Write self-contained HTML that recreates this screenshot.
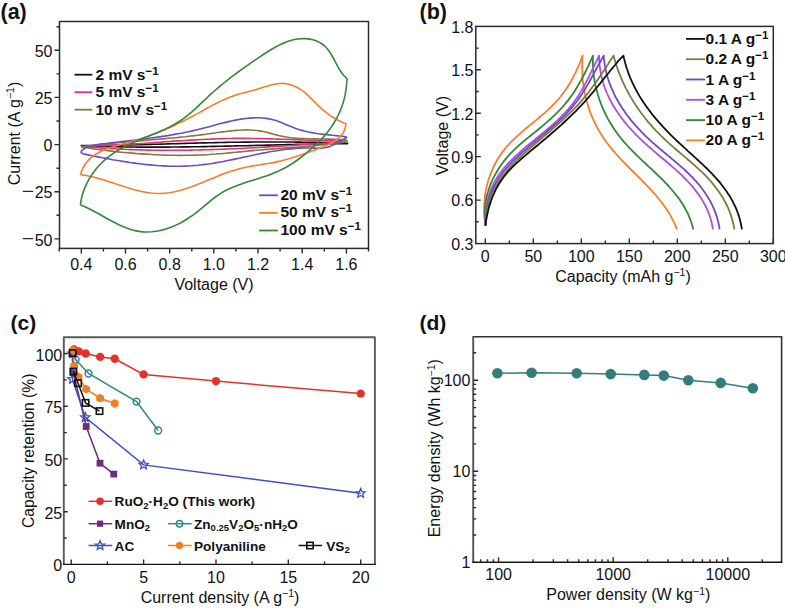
<!DOCTYPE html><html><head><meta charset="utf-8"><style>html,body{margin:0;padding:0;background:#fff;}svg{display:block;}text{font-family:"Liberation Sans", sans-serif;}</style></head><body>
<svg width="785" height="608" viewBox="0 0 785 608">
<rect width="785" height="608" fill="#fff"/>
<text x="0.5" y="19.0" font-size="21.5" text-anchor="start" font-weight="bold" fill="#111" >(a)</text>
<rect x="59.5" y="21.5" width="309.0" height="226.9" fill="none" stroke="#2b2b2b" stroke-width="1.5"/>
<text x="81.3" y="270.4" font-size="16.0" text-anchor="middle" font-weight="normal" fill="#111" >0.4</text>
<text x="125.5" y="270.4" font-size="16.0" text-anchor="middle" font-weight="normal" fill="#111" >0.6</text>
<text x="169.7" y="270.4" font-size="16.0" text-anchor="middle" font-weight="normal" fill="#111" >0.8</text>
<text x="213.8" y="270.4" font-size="16.0" text-anchor="middle" font-weight="normal" fill="#111" >1.0</text>
<text x="258.0" y="270.4" font-size="16.0" text-anchor="middle" font-weight="normal" fill="#111" >1.2</text>
<text x="302.2" y="270.4" font-size="16.0" text-anchor="middle" font-weight="normal" fill="#111" >1.4</text>
<text x="346.4" y="270.4" font-size="16.0" text-anchor="middle" font-weight="normal" fill="#111" >1.6</text>
<text x="52.5" y="245.6" font-size="16.0" text-anchor="end" font-weight="normal" fill="#111" >50</text>
<text x="52.5" y="198.4" font-size="16.0" text-anchor="end" font-weight="normal" fill="#111" >25</text>
<text x="52.5" y="151.3" font-size="16.0" text-anchor="end" font-weight="normal" fill="#111" >0</text>
<text x="52.5" y="104.1" font-size="16.0" text-anchor="end" font-weight="normal" fill="#111" >25</text>
<text x="52.5" y="57.0" font-size="16.0" text-anchor="end" font-weight="normal" fill="#111" >50</text>
<path d="M59.2,248.4V251.4 M81.3,248.4V253.4 M103.4,248.4V251.4 M125.5,248.4V253.4 M147.6,248.4V251.4 M169.7,248.4V253.4 M191.8,248.4V251.4 M213.8,248.4V253.4 M235.9,248.4V251.4 M258.0,248.4V253.4 M280.1,248.4V251.4 M302.2,248.4V253.4 M324.3,248.4V251.4 M346.4,248.4V253.4 M368.5,248.4V251.4 M59.5,238.9H54.5 M22.9,238.6H33.1 M59.5,215.3H56.5 M59.5,191.8H54.5 M22.9,191.4H33.1 M59.5,168.2H56.5 M59.5,144.6H54.5 M59.5,121.0H56.5 M59.5,97.4H54.5 M59.5,73.9H56.5 M59.5,50.3H54.5 M59.5,26.7H56.5" stroke="#2b2b2b" stroke-width="1.4" fill="none"/>
<text x="214.0" y="290.0" font-size="16.0" text-anchor="middle" font-weight="normal" fill="#111" >Voltage (V)</text>
<text transform="translate(19.5,133.5) rotate(-90)" font-size="16" text-anchor="middle" fill="#111">Current (A g<tspan dy="-5.5" font-size="10.5">−1</tspan><tspan dy="5.5">)</tspan></text>
<path d="M80.6,145.6 L84.0,145.6 L87.4,145.6 L90.7,145.5 L94.1,145.5 L97.5,145.5 L100.9,145.4 L104.3,145.4 L107.6,145.3 L111.0,145.3 L114.4,145.2 L117.8,145.2 L121.2,145.1 L124.5,145.0 L127.9,145.0 L131.3,144.9 L134.7,144.8 L138.0,144.7 L141.4,144.6 L144.8,144.5 L148.2,144.4 L151.6,144.4 L154.9,144.3 L158.3,144.2 L161.7,144.1 L165.1,144.0 L168.5,143.9 L171.8,143.8 L175.2,143.7 L178.6,143.6 L182.0,143.5 L185.4,143.4 L188.7,143.3 L192.1,143.2 L195.5,143.1 L198.9,143.0 L202.3,142.9 L205.6,142.9 L209.0,142.8 L212.4,142.7 L215.8,142.6 L219.2,142.5 L222.5,142.5 L225.9,142.4 L229.3,142.3 L232.7,142.3 L236.1,142.2 L239.4,142.2 L242.8,142.1 L246.2,142.1 L249.6,142.1 L252.9,142.0 L256.3,142.0 L259.7,142.0 L263.1,142.0 L266.5,142.0 L269.8,142.0 L273.2,142.0 L276.6,142.0 L280.0,142.0 L283.4,142.0 L286.7,142.0 L290.1,142.0 L293.5,142.0 L296.9,142.1 L300.3,142.1 L303.7,142.2 L307.0,142.2 L310.4,142.3 L313.8,142.3 L317.2,142.4 L320.6,142.5 L323.9,142.5 L327.3,142.6 L330.7,142.7 L334.1,142.8 L337.5,142.9 L340.8,143.0 L344.2,143.1 L347.6,143.2 L347.6,143.6 L344.2,143.6 L340.8,143.7 L337.5,143.7 L334.1,143.7 L330.7,143.8 L327.3,143.8 L323.9,143.9 L320.6,143.9 L317.2,144.0 L313.8,144.1 L310.4,144.1 L307.1,144.2 L303.7,144.3 L300.3,144.3 L296.9,144.4 L293.5,144.5 L290.2,144.6 L286.8,144.6 L283.4,144.7 L280.0,144.8 L276.6,144.9 L273.2,145.0 L269.9,145.1 L266.5,145.1 L263.1,145.2 L259.7,145.3 L256.3,145.4 L253.0,145.5 L249.6,145.6 L246.2,145.7 L242.8,145.7 L239.4,145.8 L236.1,145.9 L232.7,146.0 L229.3,146.1 L225.9,146.1 L222.5,146.2 L219.2,146.3 L215.8,146.4 L212.4,146.4 L209.0,146.5 L205.6,146.6 L202.3,146.6 L198.9,146.7 L195.5,146.7 L192.1,146.8 L188.7,146.9 L185.4,146.9 L182.0,146.9 L178.6,147.0 L175.2,147.0 L171.8,147.0 L168.4,147.1 L165.1,147.1 L161.7,147.1 L158.3,147.1 L154.9,147.1 L151.5,147.1 L148.2,147.1 L144.8,147.1 L141.4,147.1 L138.0,147.1 L134.7,147.0 L131.3,147.0 L127.9,147.0 L124.5,146.9 L121.1,146.9 L117.8,146.8 L114.4,146.7 L111.0,146.7 L107.6,146.6 L104.2,146.5 L100.9,146.4 L97.5,146.3 L94.1,146.2 L90.7,146.0 L87.4,145.9 L84.0,145.8 L80.6,145.6" stroke="#111111" stroke-width="1.60" fill="none" stroke-linejoin="round"/>
<path d="M81.0,146.2 L84.3,146.2 L87.7,146.1 L91.0,146.0 L94.3,145.9 L97.7,145.8 L101.0,145.7 L104.3,145.6 L107.7,145.4 L111.0,145.3 L114.3,145.1 L117.7,144.9 L121.0,144.8 L124.3,144.6 L127.7,144.4 L131.0,144.1 L134.3,143.9 L137.7,143.7 L141.0,143.5 L144.3,143.3 L147.7,143.0 L151.0,142.8 L154.3,142.6 L157.7,142.3 L161.0,142.1 L164.3,141.8 L167.6,141.6 L171.0,141.4 L174.3,141.1 L177.6,140.9 L181.0,140.7 L184.3,140.5 L187.6,140.3 L191.0,140.1 L194.3,139.9 L197.6,139.7 L201.0,139.5 L204.3,139.4 L207.6,139.2 L211.0,139.1 L214.3,138.9 L217.6,138.8 L221.0,138.7 L224.3,138.6 L227.6,138.5 L231.0,138.5 L234.3,138.4 L237.6,138.4 L241.0,138.4 L244.3,138.4 L247.6,138.4 L251.0,138.5 L254.3,138.5 L257.6,138.6 L261.0,138.6 L264.3,138.7 L267.6,138.8 L271.0,138.9 L274.3,139.0 L277.6,139.1 L281.0,139.2 L284.3,139.3 L287.7,139.4 L291.0,139.5 L294.3,139.7 L297.7,139.8 L301.0,139.9 L304.3,140.0 L307.7,140.2 L311.0,140.3 L314.4,140.4 L317.7,140.5 L321.0,140.6 L324.4,140.7 L327.7,140.8 L331.0,140.9 L334.4,141.0 L337.7,141.1 L341.1,141.1 L344.4,141.2 L344.4,141.9 L341.1,142.1 L337.7,142.3 L334.4,142.6 L331.1,142.8 L327.7,143.0 L324.4,143.2 L321.1,143.5 L317.8,143.7 L314.4,143.9 L311.1,144.1 L307.8,144.4 L304.4,144.6 L301.1,144.8 L297.8,145.0 L294.4,145.2 L291.1,145.5 L287.8,145.7 L284.4,145.9 L281.1,146.1 L277.8,146.3 L274.4,146.5 L271.1,146.7 L267.8,146.9 L264.4,147.1 L261.1,147.3 L257.8,147.5 L254.4,147.7 L251.1,147.9 L247.8,148.0 L244.4,148.2 L241.1,148.4 L237.7,148.5 L234.4,148.7 L231.1,148.8 L227.7,149.0 L224.4,149.1 L221.1,149.2 L217.7,149.4 L214.4,149.5 L211.1,149.6 L207.7,149.7 L204.4,149.8 L201.1,149.9 L197.7,150.0 L194.4,150.0 L191.1,150.1 L187.7,150.2 L184.4,150.2 L181.0,150.2 L177.7,150.3 L174.4,150.3 L171.0,150.3 L167.7,150.3 L164.4,150.3 L161.0,150.3 L157.7,150.3 L154.4,150.2 L151.0,150.2 L147.7,150.1 L144.4,150.0 L141.0,149.9 L137.7,149.8 L134.4,149.7 L131.0,149.6 L127.7,149.5 L124.3,149.3 L121.0,149.2 L117.7,149.0 L114.3,148.8 L111.0,148.6 L107.7,148.4 L104.3,148.2 L101.0,147.9 L97.7,147.7 L94.3,147.4 L91.0,147.1 L87.7,146.8 L84.3,146.5 L81.0,146.2" stroke="#e4307a" stroke-width="1.60" fill="none" stroke-linejoin="round"/>
<path d="M81.3,147.0 L84.6,146.5 L88.0,146.1 L91.3,145.6 L94.7,145.2 L98.1,144.8 L101.4,144.4 L104.8,144.0 L108.1,143.7 L111.5,143.3 L114.9,143.0 L118.2,142.7 L121.6,142.4 L125.0,142.1 L128.4,141.8 L131.7,141.5 L135.1,141.2 L138.5,140.9 L141.9,140.6 L145.2,140.4 L148.6,140.1 L152.0,139.8 L155.4,139.5 L158.7,139.2 L162.1,138.9 L165.5,138.6 L168.8,138.3 L172.2,138.0 L175.6,137.7 L178.9,137.4 L182.3,137.0 L185.7,136.7 L189.0,136.3 L192.4,135.9 L195.8,135.5 L199.1,135.1 L202.5,134.6 L205.8,134.2 L209.2,133.7 L212.5,133.2 L215.9,132.8 L219.3,132.3 L222.6,131.9 L226.0,131.5 L229.4,131.1 L232.8,130.7 L236.2,130.4 L239.6,130.2 L243.1,130.0 L246.5,129.9 L249.9,130.0 L253.2,130.2 L256.6,130.5 L259.9,130.9 L263.2,131.5 L266.5,132.3 L269.7,133.1 L273.0,134.0 L276.2,134.9 L279.5,135.7 L282.8,136.4 L286.1,137.0 L289.4,137.5 L292.7,137.9 L296.1,138.2 L299.5,138.5 L302.9,138.6 L306.2,138.8 L309.7,138.8 L313.1,138.9 L316.5,138.9 L319.9,139.0 L323.3,139.0 L326.7,139.1 L330.1,139.1 L333.5,139.2 L336.9,139.4 L340.2,139.6 L343.6,139.9 L346.9,140.3 L346.9,141.6 L343.6,142.1 L340.2,142.6 L336.9,143.1 L333.5,143.6 L330.2,144.0 L326.8,144.4 L323.5,144.8 L320.1,145.1 L316.8,145.4 L313.4,145.8 L310.0,146.1 L306.7,146.4 L303.3,146.6 L299.9,146.9 L296.6,147.2 L293.2,147.4 L289.8,147.7 L286.5,147.9 L283.1,148.2 L279.7,148.4 L276.4,148.7 L273.0,148.9 L269.6,149.2 L266.3,149.4 L262.9,149.7 L259.5,150.0 L256.2,150.3 L252.8,150.6 L249.4,150.9 L246.1,151.2 L242.7,151.6 L239.3,151.9 L236.0,152.2 L232.6,152.5 L229.3,152.9 L225.9,153.2 L222.5,153.5 L219.2,153.7 L215.8,154.0 L212.5,154.2 L209.1,154.5 L205.7,154.7 L202.4,154.9 L199.0,155.0 L195.6,155.1 L192.3,155.2 L188.9,155.3 L185.5,155.3 L182.2,155.4 L178.8,155.4 L175.4,155.3 L172.0,155.3 L168.7,155.2 L165.3,155.1 L161.9,155.0 L158.6,154.8 L155.2,154.7 L151.8,154.5 L148.4,154.3 L145.1,154.1 L141.7,153.9 L138.3,153.7 L134.9,153.4 L131.6,153.1 L128.2,152.8 L124.8,152.5 L121.5,152.2 L118.1,151.9 L114.7,151.5 L111.4,151.1 L108.0,150.7 L104.7,150.3 L101.3,149.9 L98.0,149.5 L94.6,149.0 L91.3,148.5 L88.0,148.0 L84.6,147.5 L81.3,147.0" stroke="#7f7b3b" stroke-width="1.60" fill="none" stroke-linejoin="round"/>
<path d="M80.6,151.6 L83.3,149.3 L86.2,147.6 L89.3,146.4 L92.6,145.5 L96.0,144.9 L99.5,144.4 L102.9,143.9 L106.4,143.5 L109.8,143.1 L113.3,142.6 L116.7,142.2 L120.1,141.8 L123.6,141.4 L127.0,141.0 L130.4,140.6 L133.8,140.2 L137.2,139.8 L140.6,139.4 L144.0,138.9 L147.4,138.5 L150.8,138.0 L154.2,137.6 L157.6,137.1 L161.0,136.6 L164.4,136.1 L167.8,135.6 L171.2,135.0 L174.5,134.4 L177.9,133.8 L181.3,133.2 L184.7,132.5 L188.1,131.8 L191.5,131.1 L194.8,130.3 L198.2,129.5 L201.6,128.6 L205.0,127.8 L208.4,126.9 L211.8,126.0 L215.2,125.0 L218.6,124.1 L222.0,123.2 L225.4,122.4 L228.8,121.6 L232.2,120.8 L235.6,120.1 L239.0,119.5 L242.4,118.9 L245.8,118.5 L249.2,118.1 L252.6,117.9 L256.0,117.8 L259.3,117.8 L262.7,118.0 L266.1,118.4 L269.5,118.9 L272.8,119.7 L276.1,120.6 L279.3,121.8 L282.5,123.1 L285.7,124.4 L288.9,125.7 L292.1,127.0 L295.3,128.3 L298.6,129.4 L301.9,130.4 L305.2,131.2 L308.6,132.0 L312.0,132.6 L315.4,133.2 L318.8,133.7 L322.2,134.1 L325.7,134.5 L329.1,134.9 L332.6,135.3 L336.0,135.6 L339.5,136.0 L342.9,136.4 L346.3,136.8 L346.6,137.5 L344.2,138.9 L341.2,140.0 L338.0,142.0 L334.7,144.3 L331.3,145.9 L328.0,147.1 L324.6,147.8 L321.1,148.1 L317.7,148.2 L314.3,148.1 L310.8,148.0 L307.4,148.0 L303.9,148.0 L300.5,148.1 L297.1,148.3 L293.6,148.6 L290.2,148.9 L286.8,149.2 L283.4,149.7 L280.0,150.1 L276.6,150.7 L273.2,151.2 L269.8,151.8 L266.4,152.5 L263.0,153.1 L259.6,153.8 L256.2,154.5 L252.8,155.2 L249.4,156.0 L246.0,156.7 L242.6,157.4 L239.2,158.2 L235.8,158.9 L232.4,159.6 L229.0,160.3 L225.6,161.0 L222.2,161.7 L218.8,162.3 L215.4,162.9 L212.0,163.5 L208.6,164.0 L205.2,164.4 L201.8,164.8 L198.4,165.2 L195.0,165.5 L191.6,165.8 L188.2,166.0 L184.7,166.1 L181.3,166.2 L177.9,166.2 L174.5,166.2 L171.0,166.2 L167.6,166.1 L164.2,165.9 L160.7,165.7 L157.3,165.5 L153.9,165.2 L150.4,164.9 L147.0,164.6 L143.6,164.2 L140.2,163.8 L136.7,163.4 L133.3,162.9 L129.9,162.5 L126.4,161.9 L123.0,161.4 L119.6,160.8 L116.2,160.3 L112.7,159.7 L109.3,159.0 L105.9,158.4 L102.5,157.8 L99.1,157.1 L95.8,156.4 L92.4,155.8 L89.1,155.1 L85.8,154.4 L82.6,153.7 L80.6,151.6" stroke="#6c4bc4" stroke-width="1.60" fill="none" stroke-linejoin="round"/>
<path d="M80.4,174.7 L81.8,170.7 L83.4,167.1 L85.5,163.8 L87.8,160.9 L90.3,158.4 L93.1,156.1 L96.1,154.0 L99.3,152.2 L102.7,150.6 L106.2,149.1 L109.8,147.8 L113.6,146.6 L117.3,145.5 L121.2,144.4 L125.0,143.4 L128.9,142.3 L132.7,141.2 L136.4,140.1 L140.1,138.9 L143.8,137.7 L147.5,136.4 L151.1,135.1 L154.7,133.8 L158.2,132.4 L161.7,130.9 L165.2,129.4 L168.7,127.9 L172.1,126.4 L175.6,124.8 L179.0,123.1 L182.4,121.5 L185.8,119.8 L189.2,118.0 L192.6,116.2 L196.0,114.4 L199.3,112.6 L202.7,110.7 L206.1,108.8 L209.5,107.0 L212.9,105.1 L216.3,103.3 L219.8,101.6 L223.3,99.9 L226.8,98.4 L230.4,97.0 L233.9,95.7 L237.6,94.6 L241.3,93.6 L245.0,92.6 L248.7,91.6 L252.5,90.6 L256.3,89.5 L260.1,88.3 L264.0,87.0 L267.8,85.9 L271.6,84.8 L275.4,84.0 L279.1,83.5 L282.8,83.4 L286.5,83.8 L290.0,84.6 L293.5,85.8 L296.8,87.3 L300.1,89.2 L303.2,91.3 L306.2,93.7 L309.0,96.4 L311.8,99.1 L314.6,101.9 L317.3,104.7 L320.2,107.4 L323.0,109.9 L326.0,112.4 L329.0,114.6 L332.2,116.8 L335.4,118.8 L338.8,120.6 L342.3,122.2 L346.0,123.7 L346.0,123.7 L345.4,127.5 L344.2,130.9 L342.5,133.8 L340.4,136.4 L337.9,138.8 L335.1,140.8 L332.1,142.7 L328.8,144.3 L325.5,145.9 L322.0,147.3 L318.4,148.6 L314.9,149.9 L311.4,151.2 L307.9,152.5 L304.4,153.7 L300.9,154.9 L297.4,156.1 L293.9,157.2 L290.5,158.3 L287.0,159.3 L283.5,160.2 L280.1,161.1 L276.6,161.9 L273.1,162.6 L269.6,163.2 L266.0,163.8 L262.5,164.4 L259.0,165.0 L255.4,165.5 L251.9,166.1 L248.4,166.8 L244.8,167.5 L241.3,168.3 L237.8,169.2 L234.3,170.2 L230.8,171.3 L227.3,172.5 L223.9,173.8 L220.4,175.1 L216.9,176.5 L213.5,177.9 L210.1,179.3 L206.6,180.8 L203.2,182.2 L199.7,183.6 L196.3,184.9 L192.9,186.2 L189.4,187.5 L186.0,188.6 L182.5,189.7 L179.1,190.7 L175.6,191.5 L172.1,192.2 L168.6,192.8 L165.1,193.2 L161.6,193.4 L158.1,193.5 L154.6,193.3 L151.1,193.0 L147.5,192.5 L144.0,191.9 L140.4,191.2 L136.8,190.3 L133.3,189.4 L129.7,188.3 L126.1,187.3 L122.6,186.1 L119.0,185.0 L115.4,183.8 L111.9,182.6 L108.3,181.4 L104.8,180.3 L101.3,179.2 L97.7,178.2 L94.2,177.3 L90.8,176.5 L87.3,175.7 L83.8,175.1 L80.4,174.7" stroke="#f47f2a" stroke-width="1.60" fill="none" stroke-linejoin="round"/>
<path d="M80.4,204.8 L81.1,200.4 L82.0,196.1 L83.3,191.8 L84.9,187.6 L86.7,183.6 L88.8,179.7 L91.1,175.9 L93.6,172.2 L96.3,168.7 L99.3,165.3 L102.4,162.2 L105.7,159.2 L109.1,156.4 L112.6,153.8 L116.3,151.4 L120.1,149.1 L124.0,147.0 L127.9,144.9 L131.9,143.0 L136.0,141.2 L140.1,139.5 L144.2,137.8 L148.3,136.2 L152.4,134.5 L156.5,132.9 L160.6,131.1 L164.6,129.4 L168.6,127.5 L172.5,125.5 L176.3,123.3 L180.0,121.0 L183.7,118.4 L187.2,115.7 L190.7,112.8 L194.1,109.9 L197.4,106.8 L200.7,103.7 L204.0,100.6 L207.3,97.5 L210.5,94.4 L213.8,91.5 L217.1,88.6 L220.4,85.8 L223.8,83.0 L227.2,80.3 L230.6,77.7 L234.0,75.1 L237.5,72.5 L241.0,69.9 L244.6,67.3 L248.2,64.8 L251.9,62.2 L255.7,59.7 L259.5,57.1 L263.3,54.5 L267.2,52.0 L271.2,49.5 L275.2,47.2 L279.3,45.1 L283.4,43.2 L287.5,41.6 L291.6,40.3 L295.8,39.3 L300.1,38.7 L304.3,38.6 L308.6,38.9 L312.8,39.7 L316.8,41.1 L320.6,43.0 L324.1,45.5 L327.1,48.5 L329.8,52.1 L332.2,56.0 L334.4,60.0 L336.5,64.2 L338.7,68.2 L341.1,72.0 L343.8,75.5 L346.9,78.5 L346.9,78.5 L346.7,82.9 L346.3,87.3 L345.7,91.6 L344.9,95.9 L343.9,100.1 L342.7,104.2 L341.2,108.2 L339.6,112.2 L337.8,116.0 L335.8,119.8 L333.6,123.5 L331.3,127.1 L328.8,130.5 L326.1,133.9 L323.3,137.1 L320.3,140.3 L317.2,143.3 L314.0,146.2 L310.8,149.2 L307.5,152.0 L304.2,154.8 L300.8,157.5 L297.4,160.0 L293.9,162.5 L290.3,164.8 L286.6,167.0 L282.8,169.0 L279.0,170.9 L275.0,172.6 L271.0,174.2 L267.0,175.7 L262.8,177.1 L258.7,178.4 L254.5,179.7 L250.4,181.0 L246.2,182.3 L242.1,183.7 L238.0,185.2 L234.0,186.7 L230.1,188.4 L226.2,190.3 L222.5,192.3 L218.9,194.6 L215.4,197.0 L212.0,199.6 L208.7,202.4 L205.4,205.1 L202.1,207.9 L198.7,210.6 L195.4,213.3 L191.9,215.8 L188.4,218.2 L184.7,220.5 L181.0,222.7 L177.0,224.6 L173.0,226.4 L168.8,228.0 L164.6,229.4 L160.3,230.5 L156.0,231.3 L151.6,231.8 L147.3,232.0 L143.1,231.9 L138.9,231.4 L134.8,230.6 L130.7,229.5 L126.7,228.1 L122.8,226.5 L118.8,224.7 L115.0,222.8 L111.1,220.8 L107.3,218.7 L103.4,216.5 L99.6,214.3 L95.8,212.2 L92.0,210.2 L88.2,208.2 L84.3,206.4 L80.4,204.8" stroke="#33873b" stroke-width="1.60" fill="none" stroke-linejoin="round"/>
<path d="M74.5,74.7H92.3" stroke="#111111" stroke-width="1.8"/>
<text x="95.5" y="79.9" font-size="15.5" font-weight="bold" fill="#111">2 mV s<tspan dy="-5" font-size="11.5">−1</tspan></text>
<path d="M74.5,92.2H92.3" stroke="#e4307a" stroke-width="1.8"/>
<text x="95.5" y="97.4" font-size="15.5" font-weight="bold" fill="#111">5 mV s<tspan dy="-5" font-size="11.5">−1</tspan></text>
<path d="M74.5,109.7H92.3" stroke="#7f7b3b" stroke-width="1.8"/>
<text x="95.5" y="114.9" font-size="15.5" font-weight="bold" fill="#111">10 mV s<tspan dy="-5" font-size="11.5">−1</tspan></text>
<path d="M259.1,195.3H277.8" stroke="#6c4bc4" stroke-width="1.8"/>
<text x="280.5" y="199.8" font-size="15.5" font-weight="bold" fill="#111">20 mV s<tspan dy="-5" font-size="11.5">−1</tspan></text>
<path d="M259.1,212.9H277.8" stroke="#f47f2a" stroke-width="1.8"/>
<text x="280.5" y="217.4" font-size="15.5" font-weight="bold" fill="#111">50 mV s<tspan dy="-5" font-size="11.5">−1</tspan></text>
<path d="M259.1,230.5H277.8" stroke="#33873b" stroke-width="1.8"/>
<text x="280.5" y="235.0" font-size="15.5" font-weight="bold" fill="#111">100 mV s<tspan dy="-5" font-size="11.5">−1</tspan></text>
<text x="419.5" y="19.3" font-size="21.5" text-anchor="start" font-weight="bold" fill="#111" >(b)</text>
<rect x="475.8" y="26.4" width="297.5" height="217.2" fill="none" stroke="#2b2b2b" stroke-width="1.5"/>
<text x="485.3" y="261.6" font-size="16.0" text-anchor="middle" font-weight="normal" fill="#111" >0</text>
<text x="533.3" y="261.6" font-size="16.0" text-anchor="middle" font-weight="normal" fill="#111" >50</text>
<text x="581.3" y="261.6" font-size="16.0" text-anchor="middle" font-weight="normal" fill="#111" >100</text>
<text x="629.3" y="261.6" font-size="16.0" text-anchor="middle" font-weight="normal" fill="#111" >150</text>
<text x="677.3" y="261.6" font-size="16.0" text-anchor="middle" font-weight="normal" fill="#111" >200</text>
<text x="725.3" y="261.6" font-size="16.0" text-anchor="middle" font-weight="normal" fill="#111" >250</text>
<text x="773.3" y="261.6" font-size="16.0" text-anchor="middle" font-weight="normal" fill="#111" >300</text>
<text x="473.5" y="249.8" font-size="16.0" text-anchor="end" font-weight="normal" fill="#111" >0.3</text>
<text x="473.5" y="206.4" font-size="16.0" text-anchor="end" font-weight="normal" fill="#111" >0.6</text>
<text x="473.5" y="162.9" font-size="16.0" text-anchor="end" font-weight="normal" fill="#111" >0.9</text>
<text x="473.5" y="119.5" font-size="16.0" text-anchor="end" font-weight="normal" fill="#111" >1.2</text>
<text x="473.5" y="76.1" font-size="16.0" text-anchor="end" font-weight="normal" fill="#111" >1.5</text>
<text x="473.5" y="32.6" font-size="16.0" text-anchor="end" font-weight="normal" fill="#111" >1.8</text>
<path d="M485.3,243.5V238.5 M509.3,243.5V240.5 M533.3,243.5V238.5 M557.3,243.5V240.5 M581.3,243.5V238.5 M605.3,243.5V240.5 M629.3,243.5V238.5 M653.3,243.5V240.5 M677.3,243.5V238.5 M701.3,243.5V240.5 M725.3,243.5V238.5 M749.3,243.5V240.5 M773.3,243.5V238.5 M475.8,221.8H478.8 M475.8,200.1H480.8 M475.8,178.4H478.8 M475.8,156.6H480.8 M475.8,134.9H478.8 M475.8,113.2H480.8 M475.8,91.5H478.8 M475.8,69.8H480.8 M475.8,48.1H478.8" stroke="#2b2b2b" stroke-width="1.4" fill="none"/>
<text x="623" y="281.7" font-size="16" text-anchor="middle" fill="#111">Capacity (mAh g<tspan dy="-5.5" font-size="10.5">−1</tspan><tspan dy="5.5">)</tspan></text>
<text transform="translate(448.3,135.6) rotate(-90)" font-size="16" text-anchor="middle" fill="#111">Voltage (V)</text>
<path d="M485.5,225.6 L485.1,223.0 L484.8,220.4 L484.5,217.7 L484.3,215.1 L484.2,212.5 L484.1,209.9 L484.1,207.2 L484.2,204.6 L484.4,202.0 L484.6,199.4 L484.9,196.9 L485.2,194.3 L485.6,191.7 L486.1,189.2 L486.6,186.7 L487.3,184.2 L487.9,181.7 L488.7,179.2 L489.5,176.8 L490.4,174.4 L491.3,172.0 L492.3,169.6 L493.3,167.3 L494.5,165.0 L495.7,162.8 L496.9,160.5 L498.2,158.3 L499.6,156.2 L501.0,154.1 L502.5,152.0 L504.1,150.0 L505.7,148.0 L507.3,146.0 L509.1,144.1 L510.8,142.3 L512.6,140.4 L514.5,138.6 L516.4,136.8 L518.3,135.1 L520.3,133.3 L522.2,131.6 L524.2,129.9 L526.2,128.2 L528.3,126.5 L530.3,124.9 L532.3,123.2 L534.4,121.5 L536.4,119.9 L538.4,118.2 L540.4,116.5 L542.4,114.8 L544.4,113.1 L546.4,111.3 L548.3,109.6 L550.2,107.8 L552.0,106.0 L553.8,104.2 L555.6,102.3 L557.4,100.4 L559.0,98.5 L560.7,96.5 L562.2,94.5 L563.7,92.5 L565.2,90.4 L566.7,88.3 L568.0,86.1 L569.4,83.9 L570.7,81.7 L571.9,79.5 L573.2,77.2 L574.3,74.9 L575.5,72.6 L576.6,70.2 L577.7,67.8 L578.8,65.4 L579.8,63.0 L580.8,60.6 L581.7,58.1 L582.7,55.6 L582.7,55.6 L582.5,58.3 L582.3,60.9 L582.2,63.6 L582.2,66.2 L582.2,68.8 L582.3,71.5 L582.4,74.1 L582.5,76.7 L582.7,79.3 L583.0,81.9 L583.3,84.5 L583.7,87.1 L584.1,89.6 L584.6,92.2 L585.1,94.7 L585.7,97.2 L586.3,99.7 L587.0,102.2 L587.7,104.6 L588.4,107.1 L589.3,109.5 L590.1,111.9 L591.0,114.3 L592.0,116.7 L593.0,119.0 L594.1,121.4 L595.2,123.7 L596.3,125.9 L597.5,128.2 L598.8,130.4 L600.1,132.6 L601.4,134.8 L602.8,136.9 L604.2,139.1 L605.7,141.1 L607.2,143.2 L608.8,145.2 L610.4,147.3 L612.0,149.2 L613.7,151.2 L615.4,153.2 L617.1,155.1 L618.9,157.0 L620.6,158.9 L622.4,160.8 L624.2,162.7 L626.1,164.5 L627.9,166.4 L629.7,168.3 L631.6,170.1 L633.5,172.0 L635.3,173.8 L637.2,175.7 L639.0,177.5 L640.9,179.4 L642.7,181.2 L644.6,183.1 L646.4,185.0 L648.2,186.9 L650.0,188.8 L651.7,190.7 L653.5,192.6 L655.2,194.5 L656.9,196.5 L658.5,198.5 L660.1,200.5 L661.7,202.5 L663.2,204.6 L664.7,206.7 L666.2,208.8 L667.6,210.9 L669.0,213.1 L670.3,215.3 L671.5,217.6 L672.7,219.9 L673.9,222.2 L674.9,224.5 L676.0,226.9 L676.9,229.4" stroke="#f47f2a" stroke-width="1.80" fill="none" stroke-linejoin="round"/>
<path d="M485.5,225.6 L485.2,222.8 L484.9,220.1 L484.8,217.3 L484.7,214.6 L484.7,211.9 L484.9,209.2 L485.1,206.6 L485.4,204.0 L485.8,201.4 L486.2,198.8 L486.8,196.2 L487.4,193.7 L488.2,191.2 L488.9,188.7 L489.8,186.3 L490.7,183.8 L491.8,181.5 L492.8,179.1 L494.0,176.8 L495.2,174.5 L496.5,172.2 L497.8,170.0 L499.2,167.8 L500.7,165.6 L502.2,163.5 L503.8,161.4 L505.4,159.3 L507.1,157.3 L508.8,155.3 L510.6,153.4 L512.5,151.5 L514.3,149.6 L516.3,147.8 L518.2,146.0 L520.2,144.2 L522.2,142.5 L524.3,140.8 L526.3,139.1 L528.4,137.4 L530.5,135.7 L532.6,134.0 L534.7,132.4 L536.7,130.7 L538.8,129.0 L540.9,127.3 L542.9,125.6 L544.9,123.9 L546.9,122.2 L548.9,120.4 L550.9,118.7 L552.8,116.9 L554.7,115.1 L556.6,113.2 L558.4,111.4 L560.2,109.5 L562.0,107.6 L563.7,105.6 L565.4,103.6 L567.1,101.6 L568.7,99.6 L570.2,97.5 L571.8,95.3 L573.3,93.2 L574.7,91.0 L576.1,88.7 L577.5,86.5 L578.8,84.2 L580.1,81.9 L581.4,79.6 L582.6,77.2 L583.9,74.9 L585.1,72.5 L586.3,70.1 L587.4,67.7 L588.6,65.3 L589.7,62.9 L590.8,60.4 L591.9,58.0 L593.0,55.6 L593.0,55.6 L592.9,58.3 L592.9,61.0 L592.9,63.6 L593.0,66.3 L593.1,68.9 L593.3,71.6 L593.6,74.2 L593.9,76.8 L594.3,79.4 L594.7,82.0 L595.2,84.5 L595.8,87.1 L596.4,89.6 L597.1,92.1 L597.8,94.6 L598.6,97.1 L599.4,99.6 L600.3,102.0 L601.2,104.5 L602.2,106.9 L603.2,109.2 L604.3,111.6 L605.4,113.9 L606.6,116.3 L607.8,118.6 L609.1,120.8 L610.4,123.1 L611.8,125.3 L613.2,127.5 L614.6,129.7 L616.1,131.8 L617.6,133.9 L619.2,136.0 L620.8,138.0 L622.5,140.1 L624.2,142.1 L625.9,144.0 L627.7,146.0 L629.5,147.9 L631.3,149.8 L633.1,151.7 L635.0,153.5 L636.9,155.4 L638.8,157.2 L640.7,159.1 L642.6,160.9 L644.6,162.7 L646.5,164.5 L648.4,166.3 L650.4,168.1 L652.3,169.9 L654.2,171.7 L656.1,173.5 L658.0,175.4 L659.9,177.2 L661.8,179.0 L663.7,180.9 L665.5,182.8 L667.3,184.7 L669.0,186.6 L670.8,188.5 L672.5,190.5 L674.1,192.5 L675.8,194.5 L677.3,196.5 L678.9,198.6 L680.4,200.7 L681.8,202.8 L683.2,205.0 L684.5,207.2 L685.7,209.5 L686.9,211.8 L688.1,214.2 L689.1,216.6 L690.1,219.0 L691.0,221.5 L691.9,224.1 L692.6,226.7 L693.3,229.4" stroke="#33873b" stroke-width="1.80" fill="none" stroke-linejoin="round"/>
<path d="M485.5,225.6 L485.3,222.9 L485.3,220.2 L485.3,217.4 L485.4,214.7 L485.6,212.0 L485.9,209.3 L486.3,206.7 L486.7,204.0 L487.3,201.4 L487.9,198.8 L488.6,196.2 L489.4,193.7 L490.3,191.2 L491.3,188.7 L492.3,186.3 L493.5,183.9 L494.7,181.6 L496.0,179.3 L497.4,177.0 L498.8,174.8 L500.4,172.7 L502.0,170.6 L503.6,168.5 L505.3,166.5 L507.1,164.5 L508.9,162.6 L510.8,160.7 L512.7,158.8 L514.6,156.9 L516.6,155.1 L518.6,153.3 L520.6,151.5 L522.6,149.7 L524.7,148.0 L526.7,146.2 L528.8,144.5 L530.9,142.8 L533.0,141.1 L535.0,139.4 L537.1,137.7 L539.2,136.0 L541.3,134.3 L543.3,132.6 L545.4,130.9 L547.4,129.2 L549.5,127.4 L551.5,125.7 L553.5,123.9 L555.4,122.1 L557.4,120.3 L559.3,118.5 L561.2,116.7 L563.0,114.8 L564.9,112.9 L566.7,110.9 L568.4,109.0 L570.1,106.9 L571.8,104.9 L573.4,102.8 L575.0,100.6 L576.5,98.4 L578.0,96.2 L579.5,93.9 L580.9,91.6 L582.2,89.3 L583.6,86.9 L584.9,84.5 L586.1,82.1 L587.4,79.7 L588.6,77.3 L589.8,74.8 L591.0,72.4 L592.2,70.0 L593.4,67.5 L594.5,65.1 L595.7,62.7 L596.9,60.3 L598.0,57.9 L599.2,55.6 L599.2,55.6 L599.2,58.4 L599.3,61.2 L599.5,64.0 L599.8,66.7 L600.2,69.5 L600.6,72.1 L601.1,74.8 L601.7,77.4 L602.4,80.0 L603.1,82.6 L603.9,85.1 L604.8,87.7 L605.7,90.2 L606.7,92.6 L607.8,95.0 L608.9,97.5 L610.1,99.8 L611.3,102.2 L612.6,104.5 L614.0,106.8 L615.4,109.1 L616.8,111.3 L618.4,113.6 L619.9,115.8 L621.5,117.9 L623.2,120.1 L624.8,122.2 L626.6,124.3 L628.3,126.4 L630.1,128.4 L632.0,130.4 L633.8,132.4 L635.7,134.4 L637.7,136.3 L639.6,138.2 L641.6,140.1 L643.6,142.0 L645.7,143.9 L647.7,145.7 L649.8,147.5 L651.9,149.3 L653.9,151.1 L656.0,152.9 L658.1,154.7 L660.2,156.5 L662.3,158.2 L664.4,160.0 L666.5,161.8 L668.6,163.5 L670.7,165.3 L672.7,167.1 L674.8,168.9 L676.8,170.7 L678.8,172.5 L680.8,174.4 L682.7,176.2 L684.6,178.1 L686.5,180.0 L688.3,182.0 L690.1,183.9 L691.9,185.9 L693.6,187.9 L695.2,190.0 L696.8,192.1 L698.4,194.2 L699.9,196.4 L701.3,198.6 L702.7,200.9 L704.0,203.2 L705.3,205.5 L706.5,208.0 L707.6,210.4 L708.6,212.9 L709.5,215.5 L710.4,218.2 L711.2,220.9 L711.9,223.7 L712.5,226.5 L713.0,229.4" stroke="#b050d8" stroke-width="1.80" fill="none" stroke-linejoin="round"/>
<path d="M485.5,225.6 L485.4,222.8 L485.5,220.1 L485.6,217.3 L485.8,214.6 L486.1,211.9 L486.5,209.2 L487.0,206.5 L487.6,203.9 L488.3,201.3 L489.0,198.7 L489.9,196.2 L490.8,193.6 L491.8,191.2 L492.9,188.7 L494.0,186.3 L495.3,184.0 L496.6,181.7 L498.0,179.4 L499.4,177.2 L501.0,175.0 L502.5,172.9 L504.2,170.8 L505.9,168.7 L507.7,166.7 L509.5,164.7 L511.3,162.8 L513.2,160.9 L515.2,159.0 L517.1,157.1 L519.1,155.3 L521.1,153.5 L523.1,151.7 L525.2,149.9 L527.2,148.1 L529.3,146.3 L531.4,144.6 L533.4,142.8 L535.5,141.1 L537.6,139.4 L539.7,137.6 L541.8,135.9 L543.8,134.2 L545.9,132.4 L548.0,130.7 L550.0,128.9 L552.0,127.2 L554.0,125.4 L556.0,123.6 L558.0,121.8 L560.0,119.9 L561.9,118.1 L563.8,116.2 L565.7,114.3 L567.5,112.4 L569.3,110.4 L571.1,108.4 L572.8,106.4 L574.5,104.3 L576.2,102.2 L577.8,100.1 L579.4,97.9 L580.9,95.6 L582.4,93.4 L583.8,91.1 L585.3,88.8 L586.6,86.4 L588.0,84.1 L589.4,81.7 L590.7,79.3 L592.0,76.9 L593.3,74.5 L594.6,72.1 L595.9,69.7 L597.2,67.3 L598.5,64.9 L599.8,62.6 L601.1,60.2 L602.4,57.9 L603.7,55.6 L603.7,55.6 L603.9,58.4 L604.2,61.1 L604.6,63.8 L605.0,66.5 L605.6,69.2 L606.1,71.8 L606.8,74.5 L607.5,77.1 L608.3,79.6 L609.2,82.2 L610.1,84.7 L611.1,87.2 L612.2,89.7 L613.3,92.1 L614.4,94.6 L615.6,97.0 L616.9,99.3 L618.3,101.7 L619.6,104.0 L621.1,106.3 L622.5,108.6 L624.1,110.8 L625.6,113.1 L627.2,115.3 L628.9,117.4 L630.6,119.6 L632.3,121.7 L634.1,123.8 L635.9,125.8 L637.7,127.9 L639.6,129.9 L641.5,131.9 L643.4,133.8 L645.3,135.8 L647.3,137.7 L649.3,139.5 L651.3,141.4 L653.4,143.2 L655.4,145.0 L657.5,146.8 L659.6,148.6 L661.7,150.3 L663.8,152.1 L665.9,153.8 L668.0,155.6 L670.1,157.3 L672.2,159.1 L674.3,160.8 L676.3,162.6 L678.4,164.3 L680.4,166.1 L682.5,167.9 L684.5,169.7 L686.4,171.5 L688.4,173.4 L690.3,175.3 L692.2,177.2 L694.0,179.2 L695.9,181.2 L697.6,183.2 L699.4,185.2 L701.0,187.3 L702.7,189.5 L704.3,191.7 L705.8,193.9 L707.2,196.2 L708.6,198.5 L710.0,200.8 L711.3,203.2 L712.5,205.6 L713.6,208.1 L714.6,210.6 L715.6,213.1 L716.5,215.7 L717.3,218.4 L718.0,221.1 L718.6,223.8 L719.2,226.6 L719.6,229.4" stroke="#6c4bc4" stroke-width="1.80" fill="none" stroke-linejoin="round"/>
<path d="M485.5,225.6 L485.5,222.7 L485.6,219.8 L485.9,217.0 L486.2,214.2 L486.7,211.5 L487.2,208.7 L487.8,206.0 L488.6,203.4 L489.4,200.8 L490.3,198.2 L491.3,195.7 L492.4,193.2 L493.6,190.7 L494.8,188.3 L496.1,185.9 L497.5,183.6 L499.0,181.3 L500.5,179.0 L502.1,176.8 L503.7,174.7 L505.4,172.5 L507.2,170.4 L509.0,168.4 L510.8,166.4 L512.7,164.4 L514.7,162.4 L516.6,160.4 L518.6,158.5 L520.6,156.6 L522.7,154.8 L524.7,152.9 L526.8,151.0 L528.9,149.2 L531.0,147.4 L533.1,145.6 L535.2,143.8 L537.3,142.0 L539.4,140.2 L541.5,138.4 L543.6,136.6 L545.7,134.8 L547.8,133.0 L549.9,131.2 L552.0,129.4 L554.1,127.6 L556.1,125.8 L558.2,124.0 L560.3,122.1 L562.3,120.3 L564.3,118.4 L566.3,116.5 L568.3,114.7 L570.3,112.7 L572.2,110.8 L574.1,108.8 L576.0,106.9 L577.9,104.8 L579.8,102.8 L581.6,100.7 L583.4,98.6 L585.1,96.5 L586.9,94.4 L588.6,92.2 L590.2,90.0 L591.9,87.8 L593.5,85.5 L595.2,83.3 L596.8,81.0 L598.4,78.7 L599.9,76.4 L601.5,74.1 L603.0,71.8 L604.6,69.5 L606.1,67.2 L607.6,64.9 L609.1,62.5 L610.6,60.2 L612.1,57.9 L613.6,55.6 L613.6,55.6 L614.3,58.3 L615.1,61.0 L615.9,63.6 L616.7,66.2 L617.6,68.9 L618.5,71.4 L619.5,74.0 L620.5,76.5 L621.6,79.1 L622.7,81.6 L623.8,84.0 L625.0,86.5 L626.2,88.9 L627.5,91.3 L628.8,93.7 L630.1,96.1 L631.5,98.4 L632.9,100.7 L634.3,103.0 L635.8,105.3 L637.3,107.6 L638.9,109.8 L640.4,112.0 L642.1,114.2 L643.7,116.3 L645.4,118.5 L647.1,120.6 L648.8,122.7 L650.6,124.7 L652.4,126.8 L654.3,128.8 L656.1,130.8 L658.0,132.7 L659.9,134.7 L661.9,136.6 L663.8,138.5 L665.8,140.4 L667.9,142.3 L669.9,144.1 L672.0,145.9 L674.0,147.7 L676.1,149.5 L678.2,151.3 L680.3,153.1 L682.4,154.9 L684.5,156.6 L686.6,158.4 L688.7,160.2 L690.8,162.0 L692.9,163.8 L694.9,165.6 L696.9,167.4 L698.9,169.3 L700.9,171.1 L702.9,173.0 L704.8,174.9 L706.7,176.9 L708.5,178.9 L710.4,180.9 L712.1,182.9 L713.8,185.0 L715.5,187.1 L717.1,189.3 L718.7,191.5 L720.2,193.7 L721.7,196.0 L723.1,198.3 L724.4,200.6 L725.7,203.0 L726.9,205.5 L728.1,207.9 L729.1,210.5 L730.1,213.0 L731.0,215.6 L731.9,218.3 L732.6,221.0 L733.3,223.8 L733.9,226.6 L734.4,229.4" stroke="#7f7b3b" stroke-width="1.80" fill="none" stroke-linejoin="round"/>
<path d="M485.5,225.6 L485.8,222.8 L486.2,220.0 L486.7,217.2 L487.3,214.4 L487.9,211.7 L488.6,208.9 L489.3,206.1 L490.2,203.4 L491.1,200.7 L492.1,198.0 L493.1,195.4 L494.3,192.8 L495.5,190.2 L496.8,187.7 L498.2,185.3 L499.6,182.9 L501.2,180.5 L502.8,178.2 L504.5,176.0 L506.3,173.8 L508.1,171.7 L510.0,169.7 L511.9,167.6 L513.9,165.6 L516.0,163.7 L518.1,161.8 L520.2,159.9 L522.3,158.0 L524.5,156.1 L526.7,154.3 L528.8,152.5 L531.0,150.6 L533.2,148.8 L535.4,147.0 L537.6,145.2 L539.8,143.4 L542.0,141.5 L544.1,139.7 L546.3,137.9 L548.5,136.0 L550.6,134.2 L552.8,132.3 L554.9,130.5 L557.0,128.6 L559.2,126.7 L561.3,124.9 L563.3,123.0 L565.4,121.0 L567.5,119.1 L569.5,117.2 L571.6,115.2 L573.6,113.2 L575.6,111.3 L577.6,109.2 L579.5,107.2 L581.5,105.2 L583.4,103.1 L585.3,101.0 L587.2,98.9 L589.1,96.7 L590.9,94.6 L592.8,92.4 L594.6,90.2 L596.4,88.0 L598.2,85.8 L600.0,83.6 L601.8,81.3 L603.5,79.1 L605.3,76.9 L607.1,74.7 L608.9,72.5 L610.6,70.3 L612.4,68.1 L614.2,66.0 L616.0,63.8 L617.8,61.7 L619.6,59.6 L621.5,57.6 L623.4,55.6 L623.4,55.6 L624.0,58.3 L624.7,61.1 L625.4,63.7 L626.2,66.4 L627.0,69.0 L627.9,71.6 L628.8,74.1 L629.8,76.7 L630.8,79.2 L631.9,81.6 L633.1,84.1 L634.3,86.5 L635.5,88.9 L636.8,91.3 L638.1,93.6 L639.4,95.9 L640.8,98.2 L642.3,100.5 L643.7,102.7 L645.3,104.9 L646.8,107.1 L648.4,109.3 L650.0,111.4 L651.7,113.6 L653.3,115.7 L655.1,117.8 L656.8,119.8 L658.6,121.9 L660.4,123.9 L662.2,125.9 L664.0,127.9 L665.9,129.9 L667.8,131.9 L669.7,133.8 L671.7,135.8 L673.6,137.7 L675.6,139.6 L677.6,141.5 L679.6,143.3 L681.6,145.2 L683.6,147.1 L685.7,148.9 L687.7,150.8 L689.7,152.6 L691.8,154.5 L693.8,156.3 L695.8,158.2 L697.8,160.0 L699.8,161.9 L701.8,163.7 L703.8,165.6 L705.8,167.5 L707.7,169.4 L709.6,171.3 L711.5,173.2 L713.3,175.2 L715.1,177.2 L716.9,179.1 L718.7,181.2 L720.4,183.2 L722.0,185.3 L723.7,187.4 L725.2,189.5 L726.8,191.7 L728.2,193.9 L729.7,196.1 L731.0,198.4 L732.3,200.7 L733.5,203.1 L734.7,205.5 L735.8,207.9 L736.9,210.4 L737.8,213.0 L738.7,215.6 L739.5,218.2 L740.2,220.9 L740.9,223.7 L741.4,226.5 L741.9,229.4" stroke="#111111" stroke-width="1.80" fill="none" stroke-linejoin="round"/>
<path d="M686.0,38.9H705.0" stroke="#111111" stroke-width="1.8"/>
<text x="705.6" y="43.9" font-size="15.5" font-weight="bold" fill="#111">0.1 A g<tspan dy="-5" font-size="11.5">−1</tspan></text>
<path d="M686.0,59.2H705.0" stroke="#7f7b3b" stroke-width="1.8"/>
<text x="705.6" y="64.2" font-size="15.5" font-weight="bold" fill="#111">0.2 A g<tspan dy="-5" font-size="11.5">−1</tspan></text>
<path d="M686.0,79.5H705.0" stroke="#6c4bc4" stroke-width="1.8"/>
<text x="705.6" y="84.5" font-size="15.5" font-weight="bold" fill="#111">1 A g<tspan dy="-5" font-size="11.5">−1</tspan></text>
<path d="M686.0,99.8H705.0" stroke="#b050d8" stroke-width="1.8"/>
<text x="705.6" y="104.8" font-size="15.5" font-weight="bold" fill="#111">3 A g<tspan dy="-5" font-size="11.5">−1</tspan></text>
<path d="M686.0,120.1H705.0" stroke="#33873b" stroke-width="1.8"/>
<text x="705.6" y="125.1" font-size="15.5" font-weight="bold" fill="#111">10 A g<tspan dy="-5" font-size="11.5">−1</tspan></text>
<path d="M686.0,140.4H705.0" stroke="#f47f2a" stroke-width="1.8"/>
<text x="705.6" y="145.4" font-size="15.5" font-weight="bold" fill="#111">20 A g<tspan dy="-5" font-size="11.5">−1</tspan></text>
<text x="10.5" y="329.6" font-size="21.0" text-anchor="start" font-weight="bold" fill="#111" >(c)</text>
<path d="M63.8,564.4V337.2H374.9V564.4" fill="none" stroke="#5a5a5a" stroke-width="1.9" stroke-linejoin="round"/>
<path d="M62.9,564.4H375.8" stroke="#161616" stroke-width="1.4"/>
<text x="71.2" y="583.2" font-size="16.0" text-anchor="middle" font-weight="normal" fill="#111" >0</text>
<text x="143.6" y="583.2" font-size="16.0" text-anchor="middle" font-weight="normal" fill="#111" >5</text>
<text x="216.0" y="583.2" font-size="16.0" text-anchor="middle" font-weight="normal" fill="#111" >10</text>
<text x="288.3" y="583.2" font-size="16.0" text-anchor="middle" font-weight="normal" fill="#111" >15</text>
<text x="360.7" y="583.2" font-size="16.0" text-anchor="middle" font-weight="normal" fill="#111" >20</text>
<text x="62.2" y="518.7" font-size="16.0" text-anchor="end" font-weight="normal" fill="#111" >25</text>
<text x="62.2" y="465.9" font-size="16.0" text-anchor="end" font-weight="normal" fill="#111" >50</text>
<text x="62.2" y="413.2" font-size="16.0" text-anchor="end" font-weight="normal" fill="#111" >75</text>
<text x="62.2" y="360.5" font-size="16.0" text-anchor="end" font-weight="normal" fill="#111" >100</text>
<text x="62.2" y="571.4" font-size="16.0" text-anchor="end" font-weight="normal" fill="#111" >0</text>
<path d="M71.2,564.4V559.4 M107.4,564.4V561.4 M143.6,564.4V559.4 M179.8,564.4V561.4 M216.0,564.4V559.4 M252.1,564.4V561.4 M288.3,564.4V559.4 M324.5,564.4V561.4 M360.7,564.4V559.4 M63.8,538.0H66.8 M63.8,511.7H67.8 M63.8,485.3H66.8 M63.8,458.9H67.8 M63.8,432.6H66.8 M63.8,406.2H67.8 M63.8,379.9H66.8 M63.8,353.5H67.8" stroke="#2b2b2b" stroke-width="1.4" fill="none"/>
<text x="220" y="602.9" font-size="16" text-anchor="middle" fill="#111">Current density (A g<tspan dy="-5.5" font-size="10.5">−1</tspan><tspan dy="5.5">)</tspan></text>
<text transform="translate(34.2,450.8) rotate(-90)" font-size="15.6" text-anchor="middle" fill="#111">Capacity retention (%)</text>
<path d="M73.9,349.5 L78.8,351.4 L85.7,353.5 L100.2,356.9 L114.7,358.8 L143.6,374.4 L216.0,381.1 L360.7,393.6" stroke="#e2332a" stroke-width="1.5" fill="none"/>
<circle cx="73.9" cy="349.5" r="4.2" fill="#e2332a"/><circle cx="78.8" cy="351.4" r="4.2" fill="#e2332a"/><circle cx="85.7" cy="353.5" r="4.2" fill="#e2332a"/><circle cx="100.2" cy="356.9" r="4.2" fill="#e2332a"/><circle cx="114.7" cy="358.8" r="4.2" fill="#e2332a"/><circle cx="143.6" cy="374.4" r="4.2" fill="#e2332a"/><circle cx="216.0" cy="381.1" r="4.2" fill="#e2332a"/><circle cx="360.7" cy="393.6" r="4.2" fill="#e2332a"/>
<path d="M72.7,353.5 L73.4,372.5 L86.2,426.5 L100.0,463.2 L113.8,474.1" stroke="#6d2c80" stroke-width="1.5" fill="none"/>
<rect x="69.3" y="350.1" width="6.8" height="6.8" fill="#6d2c80"/><rect x="70.0" y="369.1" width="6.8" height="6.8" fill="#6d2c80"/><rect x="82.8" y="423.1" width="6.8" height="6.8" fill="#6d2c80"/><rect x="96.6" y="459.8" width="6.8" height="6.8" fill="#6d2c80"/><rect x="110.4" y="470.7" width="6.8" height="6.8" fill="#6d2c80"/>
<path d="M72.7,353.5 L75.7,359.6 L88.5,373.5 L136.5,401.6 L158.2,430.5" stroke="#2f8985" stroke-width="1.5" fill="none"/>
<circle cx="72.7" cy="353.5" r="3.4" fill="none" stroke="#2f8985" stroke-width="1.5"/><circle cx="75.7" cy="359.6" r="3.4" fill="none" stroke="#2f8985" stroke-width="1.5"/><circle cx="88.5" cy="373.5" r="3.4" fill="none" stroke="#2f8985" stroke-width="1.5"/><circle cx="136.5" cy="401.6" r="3.4" fill="none" stroke="#2f8985" stroke-width="1.5"/><circle cx="158.2" cy="430.5" r="3.4" fill="none" stroke="#2f8985" stroke-width="1.5"/>
<path d="M72.7,353.5 L72.4,379.2 L85.3,417.4 L143.6,464.9 L360.7,493.3" stroke="#3b50c2" stroke-width="1.5" fill="none"/>
<path d="M72.7,348.7 L74.0,351.8 L77.3,352.0 L74.8,354.2 L75.5,357.4 L72.7,355.7 L69.9,357.4 L70.6,354.2 L68.1,352.0 L71.4,351.8Z" fill="none" stroke="#3b50c2" stroke-width="1.3" stroke-linejoin="miter"/><path d="M72.4,374.4 L73.7,377.5 L77.0,377.7 L74.5,379.9 L75.2,383.1 L72.4,381.4 L69.6,383.1 L70.4,379.9 L67.8,377.7 L71.1,377.5Z" fill="none" stroke="#3b50c2" stroke-width="1.3" stroke-linejoin="miter"/><path d="M85.3,412.6 L86.6,415.7 L89.9,415.9 L87.3,418.1 L88.1,421.3 L85.3,419.6 L82.5,421.3 L83.2,418.1 L80.7,415.9 L84.0,415.7Z" fill="none" stroke="#3b50c2" stroke-width="1.3" stroke-linejoin="miter"/><path d="M143.6,460.1 L144.9,463.1 L148.2,463.4 L145.7,465.5 L146.4,468.7 L143.6,467.0 L140.8,468.7 L141.5,465.5 L139.0,463.4 L142.3,463.1Z" fill="none" stroke="#3b50c2" stroke-width="1.3" stroke-linejoin="miter"/><path d="M360.7,488.5 L361.9,491.6 L365.2,491.8 L362.7,494.0 L363.5,497.2 L360.7,495.5 L357.8,497.2 L358.6,494.0 L356.1,491.8 L359.4,491.6Z" fill="none" stroke="#3b50c2" stroke-width="1.3" stroke-linejoin="miter"/>
<path d="M73.0,350.3 L74.1,365.9 L78.6,376.9 L86.2,389.1 L100.0,398.2 L114.8,403.5" stroke="#f47c22" stroke-width="1.5" fill="none"/>
<path d="M73.0,345.9 L76.8,348.1 L76.8,352.5 L73.0,354.7 L69.2,352.5 L69.2,348.1Z" fill="#f47c22"/><path d="M74.1,361.5 L78.0,363.7 L78.0,368.1 L74.1,370.3 L70.3,368.1 L70.3,363.7Z" fill="#f47c22"/><path d="M78.6,372.5 L82.4,374.7 L82.4,379.1 L78.6,381.3 L74.8,379.1 L74.8,374.7Z" fill="#f47c22"/><path d="M86.2,384.7 L90.0,386.9 L90.0,391.3 L86.2,393.5 L82.3,391.3 L82.3,386.9Z" fill="#f47c22"/><path d="M100.0,393.8 L103.9,396.0 L103.9,400.4 L100.0,402.6 L96.2,400.4 L96.2,396.0Z" fill="#f47c22"/><path d="M114.8,399.1 L118.6,401.3 L118.6,405.7 L114.8,407.9 L111.0,405.7 L111.0,401.3Z" fill="#f47c22"/>
<path d="M73.4,371.6 L78.1,383.2 L85.6,402.9 L99.5,411.1" stroke="#111111" stroke-width="1.5" fill="none"/>
<rect x="69.4" y="349.9" width="6.4" height="6.4" fill="none" stroke="#111111" stroke-width="1.6"/><rect x="70.2" y="368.4" width="6.4" height="6.4" fill="none" stroke="#111111" stroke-width="1.6"/><rect x="74.9" y="380.0" width="6.4" height="6.4" fill="none" stroke="#111111" stroke-width="1.6"/><rect x="82.4" y="399.7" width="6.4" height="6.4" fill="none" stroke="#111111" stroke-width="1.6"/><rect x="96.3" y="407.9" width="6.4" height="6.4" fill="none" stroke="#111111" stroke-width="1.6"/>
<path d="M88.6,501.3H112.2" stroke="#e2332a" stroke-width="1.5"/>
<circle cx="100.1" cy="501.3" r="3.8" fill="#e2332a"/>
<text x="114.6" y="506.3" font-size="13.6" font-weight="bold" fill="#111">RuO<tspan dy="2.5" font-size="9.5">2</tspan><tspan dy="-2.5">·H<tspan dy="2.5" font-size="9.5">2</tspan><tspan dy="-2.5">O (This work)</tspan></tspan></text>
<path d="M88.6,523.7H112.2" stroke="#6d2c80" stroke-width="1.5"/>
<rect x="97.0" y="520.6" width="6.2" height="6.2" fill="#6d2c80"/>
<text x="114.6" y="528.7" font-size="13.6" font-weight="bold" fill="#111">MnO<tspan dy="2.5" font-size="9.5">2</tspan><tspan dy="-2.5"></tspan></text>
<path d="M88.6,545.5H112.2" stroke="#3b50c2" stroke-width="1.5"/>
<path d="M100.1,540.7 L101.4,543.8 L104.7,544.0 L102.2,546.2 L102.9,549.4 L100.1,547.7 L97.3,549.4 L98.0,546.2 L95.5,544.0 L98.8,543.8Z" fill="none" stroke="#3b50c2" stroke-width="1.3" stroke-linejoin="miter"/>
<text x="114.6" y="550.5" font-size="13.6" font-weight="bold" fill="#111">AC</text>
<path d="M168.0,523.7H191.6" stroke="#2f8985" stroke-width="1.5"/>
<circle cx="179.5" cy="523.7" r="3.2" fill="none" stroke="#2f8985" stroke-width="1.5"/>
<text x="194.0" y="528.7" font-size="13.6" font-weight="bold" fill="#111">Zn<tspan dy="2.5" font-size="9.5">0.25</tspan><tspan dy="-2.5">V<tspan dy="2.5" font-size="9.5">2</tspan><tspan dy="-2.5">O<tspan dy="2.5" font-size="9.5">5</tspan><tspan dy="-2.5">·nH<tspan dy="2.5" font-size="9.5">2</tspan><tspan dy="-2.5">O</tspan></tspan></tspan></tspan></text>
<path d="M168.0,545.5H191.6" stroke="#f47c22" stroke-width="1.5"/>
<path d="M179.5,541.5 L183.0,543.5 L183.0,547.5 L179.5,549.5 L176.0,547.5 L176.0,543.5Z" fill="#f47c22"/>
<text x="194.0" y="550.5" font-size="13.6" font-weight="bold" fill="#111">Polyaniline</text>
<path d="M298.5,545.5H322.1" stroke="#111111" stroke-width="1.5"/>
<rect x="306.8" y="542.3" width="6.4" height="6.4" fill="none" stroke="#111111" stroke-width="1.6"/>
<text x="326.3" y="550.5" font-size="13.6" font-weight="bold" fill="#111">VS<tspan dy="2.5" font-size="9.5">2</tspan><tspan dy="-2.5"></tspan></text>
<text x="419.5" y="329.6" font-size="21.0" text-anchor="start" font-weight="bold" fill="#111" >(d)</text>
<path d="M473.2,336.8H781.6V562.3" fill="none" stroke="#333" stroke-width="1.6"/>
<path d="M473.2,336.0V562.3" stroke="#555" stroke-width="1.9"/>
<path d="M472.3,562.3H782.4" stroke="#161616" stroke-width="1.4"/>
<text x="498.6" y="580.1" font-size="16.0" text-anchor="middle" font-weight="normal" fill="#111" >100</text>
<text x="613.2" y="580.1" font-size="16.0" text-anchor="middle" font-weight="normal" fill="#111" >1000</text>
<text x="727.8" y="580.1" font-size="16.0" text-anchor="middle" font-weight="normal" fill="#111" >10000</text>
<text x="470.4" y="568.4" font-size="16.0" text-anchor="end" font-weight="normal" fill="#111" >1</text>
<text x="470.4" y="477.3" font-size="16.0" text-anchor="end" font-weight="normal" fill="#111" >10</text>
<text x="470.4" y="386.2" font-size="16.0" text-anchor="end" font-weight="normal" fill="#111" >100</text>
<path d="M480.8,562.3V559.3 M487.5,562.3V559.3 M493.4,562.3V559.3 M498.6,562.3V557.3 M533.1,562.3V559.3 M553.3,562.3V559.3 M567.6,562.3V559.3 M578.7,562.3V559.3 M587.8,562.3V559.3 M595.4,562.3V559.3 M602.1,562.3V559.3 M608.0,562.3V559.3 M613.2,562.3V557.3 M647.7,562.3V559.3 M667.9,562.3V559.3 M682.2,562.3V559.3 M693.3,562.3V559.3 M702.4,562.3V559.3 M710.0,562.3V559.3 M716.7,562.3V559.3 M722.6,562.3V559.3 M727.8,562.3V557.3 M762.3,562.3V559.3 M473.2,535.0H476.2 M473.2,518.9H476.2 M473.2,507.6H476.2 M473.2,498.7H476.2 M473.2,491.5H476.2 M473.2,485.4H476.2 M473.2,480.1H476.2 M473.2,475.5H476.2 M473.2,471.3H478.2 M473.2,443.9H476.2 M473.2,427.8H476.2 M473.2,416.5H476.2 M473.2,407.6H476.2 M473.2,400.4H476.2 M473.2,394.3H476.2 M473.2,389.0H476.2 M473.2,384.4H476.2 M473.2,380.2H478.2 M473.2,352.8H476.2" stroke="#2b2b2b" stroke-width="1.4" fill="none"/>
<text x="628.3" y="600.4" font-size="16" text-anchor="middle" fill="#111">Power density (W kg<tspan dy="-5.5" font-size="10.5">−1</tspan><tspan dy="5.5">)</tspan></text>
<text transform="translate(440.3,448.2) rotate(-90)" font-size="16" text-anchor="middle" fill="#111">Energy density (Wh kg<tspan dy="-5.5" font-size="10.5">−1</tspan><tspan dy="5.5">)</tspan></text>
<path d="M497.4,373.3 L531.6,372.8 L576.7,373.3 L610.7,374.1 L644.3,374.9 L663.8,375.6 L688.3,380.2 L720.7,382.9 L752.8,388.2" stroke="#337d7a" stroke-width="1.5" fill="none"/>
<circle cx="497.4" cy="373.3" r="5.3" fill="#337d7a"/><circle cx="531.6" cy="372.8" r="5.3" fill="#337d7a"/><circle cx="576.7" cy="373.3" r="5.3" fill="#337d7a"/><circle cx="610.7" cy="374.1" r="5.3" fill="#337d7a"/><circle cx="644.3" cy="374.9" r="5.3" fill="#337d7a"/><circle cx="663.8" cy="375.6" r="5.3" fill="#337d7a"/><circle cx="688.3" cy="380.2" r="5.3" fill="#337d7a"/><circle cx="720.7" cy="382.9" r="5.3" fill="#337d7a"/><circle cx="752.8" cy="388.2" r="5.3" fill="#337d7a"/>
</svg></body></html>
